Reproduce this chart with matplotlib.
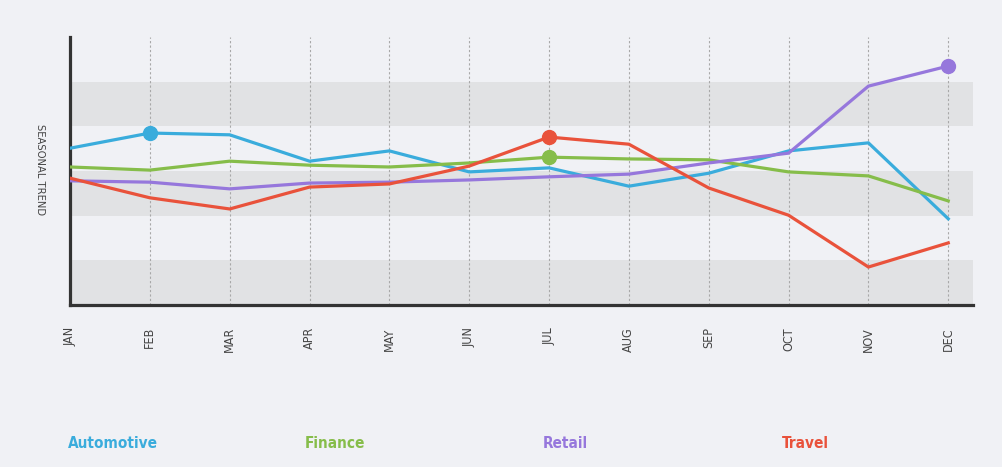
#!/usr/bin/env python3

"""Seasonal trend by industry, one line per sector."""

import matplotlib
matplotlib.use('Agg')
import matplotlib.pyplot as plt
import numpy as np

MONTHS = ['JAN', 'FEB', 'MAR', 'APR', 'MAY', 'JUN',
          'JUL', 'AUG', 'SEP', 'OCT', 'NOV', 'DEC']

automotive = [3.51, 3.85, 3.81, 3.22, 3.45, 2.98, 3.07, 2.66, 2.95, 3.45, 3.63, 1.93]
finance = [3.09, 3.02, 3.22, 3.13, 3.09, 3.18, 3.31, 3.27, 3.25, 2.98, 2.89, 2.33]
retail = [2.78, 2.75, 2.60, 2.73, 2.75, 2.80, 2.87, 2.93, 3.18, 3.40, 4.90, 5.35]
travel = [2.84, 2.40, 2.15, 2.64, 2.71, 3.11, 3.76, 3.60, 2.62, 2.01, 0.85, 1.39]

# name, values, colour, month index of the highlighted point
SERIES = [
    ('Automotive', automotive, '#3aacdc', 1),
    ('Finance', finance, '#86bd4a', 6),
    ('Retail', retail, '#9677dc', 11),
    ('Travel', travel, '#e9523b', 6),
]

BG = '#f0f1f5'
BAND = '#e1e2e4'

plt.rcParams['font.family'] = ['DejaVu Sans']
plt.rcParams['font.stretch'] = 'condensed'


def main():
    fig = plt.figure(figsize=(10.02, 4.67), dpi=100, facecolor=BG)
    ax = fig.add_axes([70 / 1002, 162 / 467, 903 / 1002, 268 / 467])
    ax.set_facecolor(BG)

    xs = np.arange(len(MONTHS))

    # grey horizontal bands
    for lo in (0, 2, 4):
        ax.axhspan(lo, lo + 1, color=BAND, lw=0, zorder=0)

    # dotted month guides
    for x in xs[1:]:
        ax.axvline(x, color='#a8a8a8', lw=0.8, ls=(0, (2, 2)), zorder=1)

    for name, vals, color, hi in SERIES:
        ax.plot(xs, vals, color=color, lw=2.3, zorder=3, solid_joinstyle='miter')
        ax.plot(xs[hi], vals[hi], 'o', color=color, ms=10, zorder=4)

    ax.set_xlim(0, 11.31)
    ax.set_ylim(0, 6)
    ax.set_yticks([])
    ax.set_xticks(xs)
    ax.set_xticklabels(MONTHS, rotation=90, fontsize=9, color='#444444')
    ax.tick_params(axis='x', length=0, pad=16)

    for side in ('top', 'right'):
        ax.spines[side].set_visible(False)
    for side in ('left', 'bottom'):
        ax.spines[side].set_color('#333333')
        ax.spines[side].set_linewidth(2.3)

    fig.text(40 / 1002, 1 - 170 / 467, 'SEASONAL TREND', rotation=-90,
             ha='center', va='center', fontsize=8, color='#444444')

    # coloured legend labels along the bottom
    for (name, vals, color, hi), x in zip(SERIES, (68, 305, 543, 782)):
        fig.text(x / 1002, 1 - 443 / 467, name, color=color, fontsize=11,
                 fontweight='bold', ha='left', va='center')

    plt.savefig('out.png', dpi=100, facecolor=BG)


if __name__ == '__main__':
    main()
